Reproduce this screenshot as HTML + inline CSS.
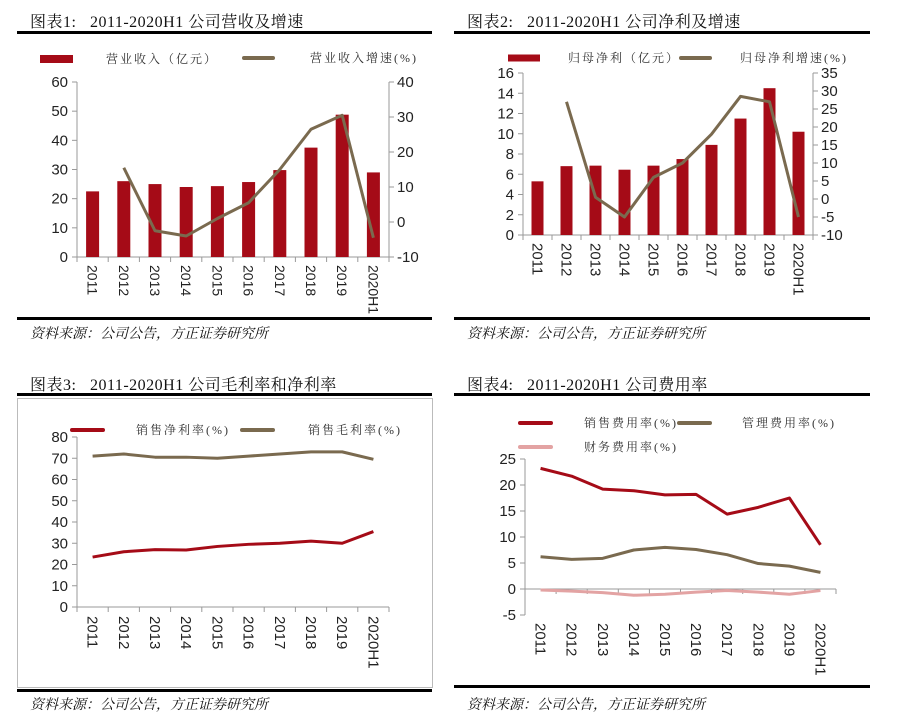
<!DOCTYPE html>
<html><head><meta charset="utf-8"><style>
body{margin:0;background:#fff;width:901px;height:726px;overflow:hidden;position:relative;font-family:"Liberation Sans","Noto Sans CJK SC",sans-serif}
.t{position:absolute;font-family:"Liberation Serif","Noto Serif CJK SC",serif;font-size:16px;color:#111;letter-spacing:0.5px}
.src{position:absolute;font-family:"Liberation Serif","Noto Serif CJK SC",serif;font-size:14px;font-style:italic;color:#111}
.rule{position:absolute;height:3px;background:#000}
svg{position:absolute;left:0;top:0}
</style></head><body>
<div class="t" style="left:30px;top:9px">图表1:&nbsp;&nbsp; 2011-2020H1 公司营收及增速</div>
<div class="rule" style="left:17px;top:31px;width:415px"></div>
<div class="rule" style="left:17px;top:317px;width:415px"></div>
<div class="src" style="left:30px;top:323px">资料来源：公司公告，方正证券研究所</div>
<div class="t" style="left:467px;top:9px">图表2:&nbsp;&nbsp; 2011-2020H1 公司净利及增速</div>
<div class="rule" style="left:454px;top:31px;width:416px"></div>
<div class="rule" style="left:454px;top:317px;width:416px"></div>
<div class="src" style="left:467px;top:323px">资料来源：公司公告，方正证券研究所</div>
<div class="t" style="left:30px;top:372px">图表3:&nbsp;&nbsp; 2011-2020H1 公司毛利率和净利率</div>
<div class="rule" style="left:17px;top:393px;width:415px"></div>
<div style="position:absolute;left:17px;top:398px;width:414px;height:288px;border:1px solid #bbb"></div>
<div class="rule" style="left:17px;top:689px;width:415px"></div>
<div class="src" style="left:30px;top:694px">资料来源：公司公告，方正证券研究所</div>
<div class="t" style="left:467px;top:372px">图表4:&nbsp;&nbsp; 2011-2020H1 公司费用率</div>
<div class="rule" style="left:454px;top:393px;width:416px"></div>
<div class="rule" style="left:454px;top:685px;width:416px"></div>
<div class="src" style="left:467px;top:694px">资料来源：公司公告，方正证券研究所</div>
<svg id="s" width="901" height="726"></svg>
<script>
const categories=["2011","2012","2013","2014","2015","2016","2017","2018","2019","2020H1"];
const revenue=[22.5,26,25,24,24.3,25.7,29.8,37.5,48.8,29];
const revenueGrowth=[null,15.5,-2.5,-4,1,5.5,15,26.5,30.5,-4.5];
const profit=[5.3,6.8,6.85,6.45,6.85,7.5,8.9,11.5,14.5,10.2];
const profitGrowth=[null,27,0.5,-5,6,10,18,28.5,27,-5];
const netMargin=[23.5,26,27,26.8,28.5,29.5,30,31,30,35.5];
const grossMargin=[71,72,70.5,70.5,70,71,72,73,73,69.5];
const salesRate=[23.2,21.7,19.2,18.9,18.1,18.2,14.4,15.7,17.5,8.5];
const mgmtRate=[6.2,5.7,5.9,7.5,8,7.6,6.6,4.9,4.4,3.2];
const finRate=[-0.2,-0.4,-0.7,-1.2,-1,-0.6,-0.3,-0.6,-1,-0.3];
const ticks1L=[0,10,20,30,40,50,60],ticks1R=[-10,0,10,20,30,40];
const ticks2L=[0,2,4,6,8,10,12,14,16],ticks2R=[-10,-5,0,5,10,15,20,25,30,35];
const ticks3=[0,10,20,30,40,50,60,70,80];
const ticks4=[-5,0,5,10,15,20,25];
const S=document.getElementById('s'),NS='http://www.w3.org/2000/svg';
function mk(t,a,p){const e=document.createElementNS(NS,t);for(const k in a)e.setAttribute(k,a[k]);(p||S).appendChild(e);return e;}
function txt(x,y,s,a,p){const e=mk('text',Object.assign({x:x,y:y,'font-size':13,fill:'#222'},a),p);e.textContent=s;return e;}
const RED='#a50b17',BR='#7a6a4f',PK='#e3a3a3';
function chart(c){
 const g=mk('g',{});
 
 
 const n=categories.length,w=(c.x1-c.x0)/n;
 const yl=v=>c.yb-(v-c.lmin)/(c.lmax-c.lmin)*(c.yb-c.yt);
 const yr=v=>c.yb-(v-c.rmin)/(c.rmax-c.rmin)*(c.yb-c.yt);
 const cx=i=>c.x0+w*(i+0.5);
 mk('line',{x1:c.x0,x2:c.x0,y1:c.yt,y2:c.ybot||c.yb,stroke:'#999'},g);
 c.lt.forEach(v=>{mk('line',{x1:c.x0-5,x2:c.x0,y1:yl(v),y2:yl(v),stroke:'#999'},g);
  const t=txt(c.x0-9,yl(v)+5,String(v),{'text-anchor':'end','font-size':c.fs||15},g);
  });
 if(c.rt){mk('line',{x1:c.x1,x2:c.x1,y1:c.yt,y2:c.yb,stroke:'#999'},g);
  c.rt.forEach(v=>{mk('line',{x1:c.x1,x2:c.x1+5,y1:yr(v),y2:yr(v),stroke:'#999'},g);
  const t=txt(c.x1+8,yr(v)+5,String(v),{'font-size':c.fs||15},g);
  });}
 const y0=yl(0);
 mk('line',{x1:c.x0,x2:c.x1,y1:y0,y2:y0,stroke:'#999'},g);
 for(let i=0;i<=n;i++)mk('line',{x1:c.x0+w*i,x2:c.x0+w*i,y1:y0,y2:y0+5,stroke:'#999'},g);
 (c.bars||[]).forEach((v,i)=>{const r=mk('rect',{x:cx(i)-c.bw/2,y:yl(v),width:c.bw,height:y0-yl(v),fill:RED},g);
  });
 (c.lines||[]).forEach(L=>{const f=L.right?yr:yl;let d='';L.d.forEach((v,i)=>{if(v==null)return;d+=(d?'L':'M')+cx(i)+','+f(v);});
  const p=mk('path',{d:d,fill:'none',stroke:L.col,'stroke-width':3,'stroke-linejoin':'round'},g);
  });
 categories.forEach((s,i)=>{const x=cx(i)-5,y=c.lab;const t=txt(x,y,s,{transform:`rotate(90 ${x} ${y})`,'font-size':c.xfs||15},g);
  });
 c.leg.forEach(L=>{const r=mk('rect',{x:L.x,y:L.y-(L.h||4)/2,width:L.w||33,height:L.h||4,fill:L.col,rx:L.h?0:2},g);
  
  const t=txt(L.tx,L.y+4,L.s,{'font-size':12,fill:'#333','font-family':'"Liberation Serif","Noto Serif CJK SC",serif','letter-spacing':'2'},g);
  });
}
chart({name:'revenue-chart',x0:77,x1:389,yt:82,yb:257,lmin:0,lmax:60,rmin:-10,rmax:40,lt:ticks1L,rt:ticks1R,bw:13,lab:265,xfs:14,
 bars:revenue,lines:[{d:revenueGrowth,col:BR,right:1,name:'revenue-growth-line'}],
 leg:[{x:40,y:59,w:33,h:8,col:RED,tx:106,s:'营业收入（亿元）'},{x:242,y:58,col:BR,tx:310,s:'营业收入增速(%)'}]});
chart({name:'profit-chart',x0:523,x1:813,yt:73,yb:235,lmin:0,lmax:16,rmin:-10,rmax:35,lt:ticks2L,rt:ticks2R,bw:12,lab:243,
 bars:profit,lines:[{d:profitGrowth,col:BR,right:1,name:'profit-growth-line'}],
 leg:[{x:508,y:58,w:32,h:7,col:RED,tx:568,s:'归母净利（亿元）'},{x:679,y:58,col:BR,tx:740,s:'归母净利增速(%)'}]});
chart({name:'margin-chart',x0:77,x1:389,yt:437,yb:607,lmin:0,lmax:80,lt:ticks3,lab:616,
 lines:[{d:netMargin,col:RED,name:'net-margin-line'},{d:grossMargin,col:BR,name:'gross-margin-line'}],
 leg:[{x:70,y:430,w:35,col:RED,tx:136,s:'销售净利率(%)'},{x:240,y:430,w:35,col:BR,tx:308,s:'销售毛利率(%)'}]});
chart({name:'expense-chart',x0:525,x1:836,yt:459,yb:615,ybot:615,lmin:-5,lmax:25,lt:ticks4,lab:623,
 lines:[{d:salesRate,col:RED,name:'sales-expense-line'},{d:mgmtRate,col:BR,name:'admin-expense-line'},{d:finRate,col:PK,name:'finance-expense-line'}],
 leg:[{x:518,y:423,w:35,col:RED,tx:584,s:'销售费用率(%)'},{x:677,y:423,w:35,col:BR,tx:742,s:'管理费用率(%)'},{x:518,y:447,w:35,col:PK,tx:584,s:'财务费用率(%)'}]});
</script>
</body></html>
